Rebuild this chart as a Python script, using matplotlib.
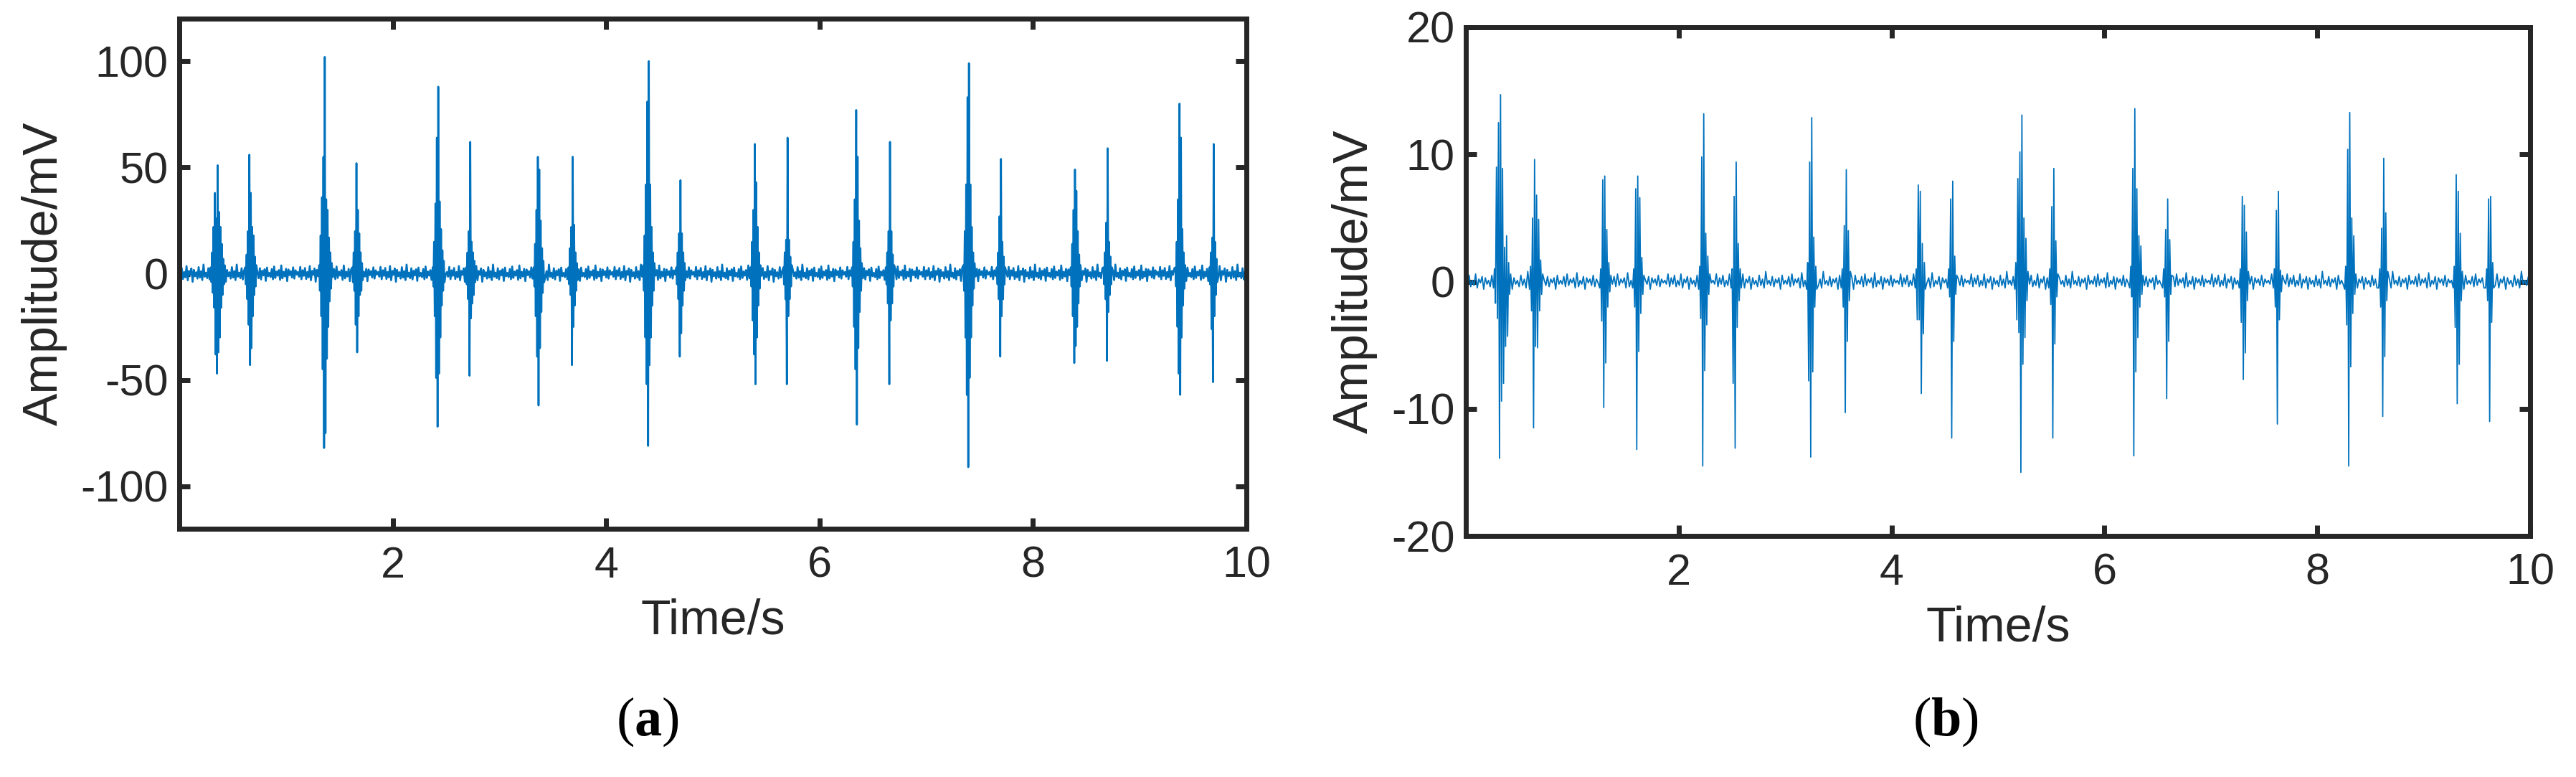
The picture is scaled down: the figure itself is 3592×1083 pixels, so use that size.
import numpy as np
import matplotlib
matplotlib.use("Agg")
import matplotlib.pyplot as plt

burst_t_a = [0.36, 0.67, 1.37, 1.67, 2.43, 2.73, 3.37, 3.69, 4.40, 4.70,
             5.40, 5.70, 6.35, 6.66, 7.40, 7.70, 8.40, 8.70, 9.38, 9.69]
bursts_a = [
    [3, -4, 10, -9, 22, -16, 38, -38, 26, -47, 51, -37, 29, -30, 22, -16, 14, -10, 7, -5, 4],
    [3, -5, 9, -12, 20, -24, 56, -43, 38, -35, 22, -20, 18, -10, 8, -6, 4],
    [4, -8, 18, -20, 36, -45, 55, -82, 102, -75, 35, -40, 30, -25, 17, -13, 10, -7, 5],
    [3, -4, 10, -8, 20, -24, 52, -37, 30, -20, 19, -10, 10, -8, 5, -3],
    [3, -6, 15, -20, 33, -49, 64, -72, 88, -47, 34, -30, 21, -15, 11, -8, 6, -4],
    [3, -5, 10, -12, 20, -48, 62, -21, 15, -14, 10, -10, 6, -4],
    [3, -6, 14, -20, 30, -39, 55, -62, 49, -35, 25, -18, 12, -9, 6, -4],
    [3, -5, 12, -10, 22, -43, 55, -25, 23, -15, 10, -8, 5, -3],
    [4, -8, 18, -30, 42, -52, 81, -81, 100, -43, 42, -30, 22, -15, 10, -8, 5],
    [3, -5, 10, -12, 19, -39, 44, -28, 19, -15, 10, -8, 5, -3],
    [3, -6, 15, -22, 30, -38, 61, -52, 43, -30, 22, -15, 10, -7, 4],
    [3, -5, 10, -12, 16, -52, 64, -20, 16, -12, 8, -6, 4],
    [3, -6, 15, -25, 35, -45, 77, -71, 55, -35, 25, -18, 12, -8, 5],
    [3, -5, 10, -14, 20, -52, 62, -22, 20, -14, 9, -6, 4],
    [4, -8, 20, -30, 42, -57, 83, -91, 99, -49, 42, -30, 22, -15, 10, -7, 5],
    [3, -5, 10, -12, 27, -39, 54, -20, 15, -12, 8, -5, 3],
    [3, -6, 14, -20, 30, -42, 49, -34, 39, -25, 20, -14, 9, -6, 4],
    [3, -5, 10, -12, 24, -41, 59, -18, 15, -10, 8, -5, 3],
    [3, -6, 15, -25, 35, -47, 80, -57, 64, -30, 21, -15, 10, -7, 4],
    [3, -5, 10, -26, 17, -51, 61, -20, 15, -10, 7, -4],
]

burst_t_b = [0.34, 0.66, 1.31, 1.62, 2.24, 2.54, 3.25, 3.57, 4.27, 4.57,
             5.22, 5.52, 6.30, 6.59, 7.31, 7.63, 8.31, 8.62, 9.32, 9.62]
bursts_b = [
    [-0.5, 1.0, -1.7, 9.0, -2.9, 12.5, -13.9, 14.7, -9.4, 8.9, -8.0, 2.7, -5.1, 3.6, -4.3, 1.5, -1.0, 0.6],
    [-0.6, 1.2, -2.3, 5.0, -11.5, 9.6, -5.1, 6.8, -5.2, 4.9, -2.3, 1.7, -1.0, 0.6],
    [-0.5, 1.0, -3.1, 8.0, -9.9, 8.3, -6.4, 4.1, -2.0, 1.5, -0.8, 0.5],
    [-0.5, 1.0, -2.0, 7.3, -13.2, 8.3, -5.5, 6.6, -2.5, 1.9, -1.0, 0.5],
    [-0.6, 1.2, -2.9, 9.8, -14.5, 13.2, -7.0, 3.8, -3.4, 2.0, -1.0, 0.6],
    [-0.5, 1.0, -8.0, 6.7, -13.1, 9.4, -3.6, 3.0, -1.5, 1.0, -0.5],
    [-0.6, 1.5, -7.8, 9.4, -13.8, 12.9, -7.1, 3.5, -2.0, 1.2, -0.6],
    [-0.5, 1.0, -2.0, 4.4, -10.3, 8.8, -4.7, 4.0, -1.5, 0.8],
    [-0.5, 1.0, -3.0, 7.6, -3.0, 7.1, -8.8, 3.0, -4.1, 1.5, -0.6],
    [-0.5, 1.0, -1.2, 6.5, -12.3, 7.9, -4.7, 2.0, -1.0, 0.5],
    [-0.6, 1.5, -3.0, 8.1, -4.0, 10.2, -15.0, 13.1, -6.5, 5.0, -4.4, 3.4, -1.5, 0.8],
    [-0.5, 1.0, -1.8, 5.9, -12.3, 8.9, -4.9, 3.2, -1.2, 0.6],
    [-0.5, 1.2, -1.2, 8.9, -13.7, 13.6, -7.1, 7.3, -4.4, 3.6, -2.0, 2.8, -1.0, 0.5],
    [-0.5, 1.0, -1.2, 4.1, -9.2, 6.5, -4.7, 3.3, -1.0, 0.5],
    [-0.5, 1.0, -3.2, 6.7, -7.7, 6.0, -5.6, 3.9, -1.5, 0.8],
    [-0.5, 1.0, -2.0, 5.6, -11.2, 7.1, -3.0, 0.9, -0.8, 0.5],
    [-0.6, 1.2, -3.4, 10.4, -14.5, 13.3, -6.7, 5.0, -2.5, 3.6, -1.0, 0.6],
    [-0.5, 1.0, -2.0, 4.2, -10.6, 9.7, -5.9, 5.4, -1.5, 0.8],
    [-0.5, 1.2, -3.6, 8.4, -9.6, 7.1, -6.5, 3.8, -1.5, 0.8],
    [-0.5, 1.0, -1.5, 6.5, -11.0, 6.7, -3.2, 1.5, -0.5],
]

# background wiggle between the bursts (mV)
noise_a = [1.6, -1.0, 2.7, -2.5, 0.8, -1.7, 3.6, -3.1, 1.3, -0.5, 2.5, -3.8, 1.8, -1.2, 0.7,
           -2.3, 3.1, -1.8, 1.2, -3.0, 4.3, -1.4, 0.5, -2.1, 2.6, -2.7, 1.4, -0.8, 2.1, -3.4,
           2.9, -1.2, 0.4, -1.6, 2.2, -2.6, 3.4, -2.0, 1.0, -0.9, 1.7, -2.9, 3.9, -2.2, 0.9,
           -1.3, 2.3, -3.5, 2.0, -0.7, 1.2, -1.8, 3.0, -2.3, 1.6, -0.4, 0.8, -1.4, 3.2, -2.6]
noise_b = [0.3, -0.2, 0.5, -0.4, 0.1, -0.3, 0.6, -0.5, 0.2, -0.1, 0.4, -0.6, 0.3, -0.2, 0.1,
           -0.4, 0.5, -0.3, 0.2, -0.5, 0.8, -0.2, 0.1, -0.3, 0.4, -0.4, 0.2, -0.1, 0.3, -0.6,
           0.5, -0.2, 0.1, -0.2, 0.4, -0.4, 0.6, -0.3, 0.2, -0.1, 0.3, -0.5, 0.7, -0.4, 0.1,
           -0.2, 0.4, -0.6, 0.3, -0.1, 0.2, -0.3, 0.5, -0.4, 0.2, -0.1, 0.1, -0.2, 0.6, -0.4]

xticks = [2, 4, 6, 8, 10]
yticks_a = [-100, -50, 0, 50, 100]
yticks_b = [-20, -10, 0, 10, 20]


def build(burst_t, bursts, noise, dt_burst, dt_noise, t_end=10.0):
    ts, ys = [], []
    cur = 0.0
    for k, (tc, vals) in enumerate(zip(burst_t, bursts)):
        w = (len(vals) - 1) * dt_burst
        start = tc - w / 2
        n = max(int((start - cur) / dt_noise), 1)
        ts.append(np.linspace(cur, start, n, endpoint=False))
        ys.append(np.take(noise, np.arange(n) + k * 11, mode='wrap'))
        ts.append(start + dt_burst * np.arange(len(vals)))
        ys.append(np.array(vals, dtype=float))
        cur = start + w + dt_noise
    n = max(int((t_end - cur) / dt_noise), 1)
    ts.append(np.linspace(cur, t_end, n))
    ys.append(np.take(noise, np.arange(n) + 5, mode='wrap'))
    return np.concatenate(ts), np.concatenate(ys)


plt.rcParams['font.family'] = ['Liberation Sans', 'DejaVu Sans']
plt.rcParams['axes.unicode_minus'] = False
plt.rcParams['mathtext.fontset'] = 'custom'
plt.rcParams['mathtext.bf'] = 'Liberation Serif:bold'
plt.rcParams['mathtext.rm'] = 'Liberation Serif'

W, H = 3592, 1083
fig = plt.figure(figsize=(W / 100, H / 100), dpi=100)
ink = '#262626'
blue = '#0072BD'

panels = [
    # left, top, right, bottom (px), data, ylim, yticks, line width, tag, tag x, ylabel x, xlabel y
    (250, 26, 1738, 737, build(burst_t_a, bursts_a, noise_a, 0.0065, 0.011), (-120, 120), yticks_a, 1.9, 'a', 903, 62, 866),
    (2044, 38, 3528, 747, build(burst_t_b, bursts_b, noise_b, 0.0095, 0.015), (-20, 20), yticks_b, 1.3, 'b', 2713, 1889, 876),
]

for l, t, r, b, (tt, yy), ylim, yt, lw, tag, tag_x, ylab_x, xlab_y in panels:
    ax = fig.add_axes([l / W, 1 - b / H, (r - l) / W, (b - t) / H])
    ax.plot(tt, yy, color=blue, lw=lw)
    ax.set_xlim(0, 10)
    ax.set_ylim(*ylim)
    ax.set_xticks(xticks)
    ax.set_yticks(yt)
    for s in ax.spines.values():
        s.set_linewidth(5)
        s.set_color(ink)
    ax.tick_params(direction='in', length=11, width=5, color=ink, labelcolor=ink,
                   labelsize=44, top=True, right=True)
    ax.tick_params(axis='x', pad=17)
    ax.tick_params(axis='y', pad=11)
    ax.set_xlabel('Time/s', fontsize=49, color=ink)
    ax.xaxis.set_label_coords(0.5, (b - xlab_y) / (b - t))
    ax.xaxis.label.set_va('center')
    ax.set_ylabel('Amplitude/mV', fontsize=49, color=ink)
    ax.yaxis.set_label_coords((ylab_x - l) / (r - l), 0.5)
    ax.yaxis.label.set_va('center')
    fig.text(tag_x / W, 1 - 1006 / H, '($\\mathbf{%s}$)' % tag, fontsize=55,
             family='Liberation Serif', ha='center', va='center', color='black')

fig.savefig('out.png', dpi=100)
